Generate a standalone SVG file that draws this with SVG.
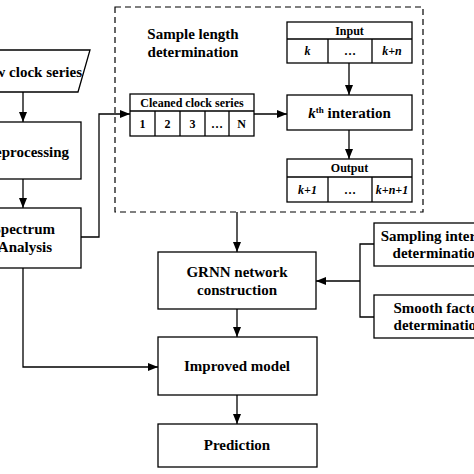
<svg xmlns="http://www.w3.org/2000/svg" width="474" height="474" viewBox="0 0 474 474">
<style>
.b{fill:#fff;stroke:#000;stroke-width:1.3}
.c{fill:none;stroke:#000;stroke-width:1.3}
.t{font-family:"Liberation Serif",serif;font-weight:bold;font-size:15px;fill:#000;text-anchor:middle}
.s{font-family:"Liberation Serif",serif;font-weight:bold;font-size:12px;fill:#000;text-anchor:middle}
.i{font-style:italic}
</style>
<defs>
<marker id="a" viewBox="0 0 10 8" refX="10" refY="4" markerWidth="10" markerHeight="8" markerUnits="userSpaceOnUse" orient="auto">
<path d="M0,0 L10,4 L0,8 z" fill="#000"/>
</marker>
</defs>
<rect width="474" height="474" fill="#fff"/>
<g id="connectors">
<path class="c" d="M23,92 V122" marker-end="url(#a)"/>
<path class="c" d="M23,179 V208" marker-end="url(#a)"/>
<path class="c" d="M81,237 H99 V114 H130" marker-end="url(#a)"/>
<path class="c" d="M254,114 H287" marker-end="url(#a)"/>
<path class="c" d="M349,63 V95" marker-end="url(#a)"/>
<path class="c" d="M349,130 V159" marker-end="url(#a)"/>
<path class="c" d="M237,212 V252" marker-end="url(#a)"/>
<path class="c" d="M374,244 H360 V317 H374"/>
<path class="c" d="M360,281 H316" marker-end="url(#a)"/>
<path class="c" d="M237,309 V337" marker-end="url(#a)"/>
<path class="c" d="M23,268 V367 H158" marker-end="url(#a)"/>
<path class="c" d="M237,395 V424" marker-end="url(#a)"/>
</g>
<g id="sample-length">
<rect x="115" y="7" width="308" height="205" fill="none" stroke="#000" stroke-width="1.2" stroke-dasharray="6,4"/>
<text class="t" x="193" y="39">Sample length</text>
<text class="t" x="193" y="57">determination</text>
</g>
<g id="raw">
<path class="b" d="M-40,50 H90 L78,92 H-40 z"/>
<text class="t" x="82" y="77" text-anchor="end" style="text-anchor:end">Raw clock series</text>
</g>
<g id="preprocessing">
<rect class="b" x="-40" y="122" width="121" height="57"/>
<text class="t" x="69" y="157" style="text-anchor:end">Preprocessing</text>
</g>
<g id="spectrum">
<rect class="b" x="-40" y="208" width="121" height="60"/>
<text class="t" x="55" y="234" style="text-anchor:end">Spectrum</text>
<text class="t" x="52" y="252" style="text-anchor:end">Analysis</text>
</g>
<g id="cleaned">
<rect class="b" x="130" y="94" width="124" height="42"/>
<path class="c" d="M130,111 H254 M155,111 V136 M180,111 V136 M205,111 V136 M229,111 V136"/>
<text class="s" x="192" y="107">Cleaned clock series</text>
<text class="s" x="142.5" y="128">1</text>
<text class="s" x="167.5" y="128">2</text>
<text class="s" x="192.5" y="128">3</text>
<text class="s" x="217" y="128">…</text>
<text class="s" x="241.5" y="128">N</text>
</g>
<g id="input">
<rect class="b" x="287" y="22" width="125" height="41"/>
<path class="c" d="M287,39 H412 M328,39 V63 M372,39 V63"/>
<text class="s" x="349.5" y="35">Input</text>
<text class="s i" x="307.5" y="55">k</text>
<text class="s" x="350" y="55">…</text>
<text class="s i" x="392" y="55">k+n</text>
</g>
<g id="iteration">
<rect class="b" x="287" y="95" width="125" height="35"/>
<text class="t" x="349.5" y="118"><tspan class="i">k</tspan><tspan font-size="9" dy="-5">th</tspan><tspan dy="5"> interation</tspan></text>
</g>
<g id="output">
<rect class="b" x="287" y="159" width="125" height="43"/>
<path class="c" d="M287,177 H412 M328,177 V202 M372,177 V202"/>
<text class="s" x="349.5" y="172">Output</text>
<text class="s i" x="307.5" y="194">k+1</text>
<text class="s" x="350" y="194">…</text>
<text class="s i" x="392" y="194">k+n+1</text>
</g>
<g id="grnn">
<rect class="b" x="158" y="252" width="158" height="57"/>
<text class="t" x="237" y="277">GRNN network</text>
<text class="t" x="237" y="295">construction</text>
</g>
<g id="sampling">
<rect class="b" x="374" y="223" width="130" height="43"/>
<text class="t" x="438" y="241">Sampling interval</text>
<text class="t" x="438" y="258">determination</text>
</g>
<g id="smooth">
<rect class="b" x="374" y="295" width="130" height="43"/>
<text class="t" x="439" y="313">Smooth factor</text>
<text class="t" x="439" y="330">determination</text>
</g>
<g id="improved">
<rect class="b" x="158" y="337" width="159" height="58"/>
<text class="t" x="237" y="371">Improved model</text>
</g>
<g id="prediction">
<rect class="b" x="158" y="424" width="159" height="43"/>
<text class="t" x="237" y="450">Prediction</text>
</g>
</svg>
